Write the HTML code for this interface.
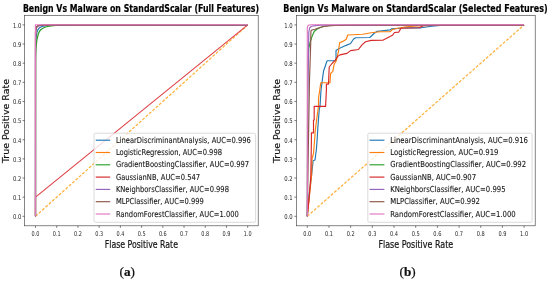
<!DOCTYPE html>
<html><head><meta charset="utf-8"><title>ROC curves</title>
<style>
html,body{margin:0;padding:0;background:#fff;}
svg{display:block;font-family:'DejaVu Sans','Liberation Sans',sans-serif;filter:blur(0.35px);}
text{stroke:currentColor;stroke-width:0.2px;}
text.tk{stroke:none;}
text.lg{stroke-width:0.1px;}
</style></head><body>
<svg width="550" height="281" viewBox="0 0 550 281">
<rect width="550" height="281" fill="#fff"/>
<g>
<polyline points="35.5,216.3 247.7,24.9" fill="none" stroke="#ffb03a" stroke-width="1.25" stroke-linejoin="round" stroke-dasharray="2.9 1.6"/>
<polyline points="35.5,216.3 35.5,50 35.8,42 36.3,36 37,32 38,29.5 39.5,27.8 42,26.5 46,25.7 52,25.3 65,25 247.7,25.25" fill="none" stroke="#1f77b4" stroke-width="1.15" stroke-linejoin="round" />
<polyline points="35.5,216.3 35.5,40 35.9,30 36.8,27 38.5,25.8 42,25.2 60,24.9 247.7,25.25" fill="none" stroke="#ff7f0e" stroke-width="1.15" stroke-linejoin="round" />
<polyline points="35.5,216.3 35.6,60 35.9,50 36.4,44 37,39.3 38.3,34 39.4,31.5 40.8,29.7 42.8,28.2 45.6,27 48,26.4 51,26 56,25.5 63,25.2 80,25 247.7,25.25" fill="none" stroke="#2ca02c" stroke-width="1.25" stroke-linejoin="round" />
<polyline points="35.5,216.3 35.5,197.16 247.7,24.9" fill="none" stroke="#df444a" stroke-width="1.15" stroke-linejoin="round" />
<polyline points="35.5,216.3 35.5,34 36,29 37.2,26.8 39.5,25.7 45,25.1 247.7,25.25" fill="none" stroke="#9467bd" stroke-width="1.15" stroke-linejoin="round" />
<polyline points="35.5,216.3 35.5,32 36,27.5 37.5,25.8 41,25.1 247.7,25.25" fill="none" stroke="#8c564b" stroke-width="1.15" stroke-linejoin="round" />
<polyline points="35.4,216.3 35.4,24.75 247.7,24.75" fill="none" stroke="#e377c2" stroke-width="1.15" stroke-linejoin="round" />
<rect x="94" y="133.2" width="161.6" height="89.1" rx="1.6" ry="1.6" fill="#fff" fill-opacity="0.8" stroke="#ccc" stroke-width="0.7"/>
<line x1="95.7" y1="140.2" x2="110.2" y2="140.2" stroke="#1f77b4" stroke-width="1.15"/>
<text transform="translate(115.9,142.75) scale(0.8239,1)" font-size="8.2" fill="#1a1a1a" class="lg">LinearDiscriminantAnalysis, AUC=0.996</text>
<line x1="95.7" y1="152.5" x2="110.2" y2="152.5" stroke="#ff7f0e" stroke-width="1.15"/>
<text transform="translate(115.9,155.05) scale(0.8239,1)" font-size="8.2" fill="#1a1a1a" class="lg">LogisticRegression, AUC=0.998</text>
<line x1="95.7" y1="164.8" x2="110.2" y2="164.8" stroke="#2ca02c" stroke-width="1.15"/>
<text transform="translate(115.9,167.35) scale(0.8239,1)" font-size="8.2" fill="#1a1a1a" class="lg">GradientBoostingClassifier, AUC=0.997</text>
<line x1="95.7" y1="177.1" x2="110.2" y2="177.1" stroke="#d62728" stroke-width="1.15"/>
<text transform="translate(115.9,179.65) scale(0.8239,1)" font-size="8.2" fill="#1a1a1a" class="lg">GaussianNB, AUC=0.547</text>
<line x1="95.7" y1="189.4" x2="110.2" y2="189.4" stroke="#9467bd" stroke-width="1.15"/>
<text transform="translate(115.9,191.95) scale(0.8239,1)" font-size="8.2" fill="#1a1a1a" class="lg">KNeighborsClassifier, AUC=0.998</text>
<line x1="95.7" y1="201.7" x2="110.2" y2="201.7" stroke="#8c564b" stroke-width="1.15"/>
<text transform="translate(115.9,204.25) scale(0.8239,1)" font-size="8.2" fill="#1a1a1a" class="lg">MLPClassifier, AUC=0.999</text>
<line x1="95.7" y1="214" x2="110.2" y2="214" stroke="#e377c2" stroke-width="1.15"/>
<text transform="translate(115.9,216.55) scale(0.8239,1)" font-size="8.2" fill="#1a1a1a" class="lg">RandomForestClassifier, AUC=1.000</text>
<rect x="24.5" y="15.3" width="233.7" height="210.5" fill="none" stroke="#3c3c3c" stroke-width="0.62"/>
<line x1="35.5" y1="225.8" x2="35.5" y2="227.8" stroke="#222" stroke-width="0.6"/>
<line x1="22.5" y1="216.3" x2="24.5" y2="216.3" stroke="#222" stroke-width="0.6"/>
<text transform="translate(35.5,236.4) scale(0.7388,1)" font-size="6.7" text-anchor="middle" fill="#1c1c1c" class="tk">0.0</text>
<text transform="translate(21.3,219.1) scale(0.7761,1)" font-size="6.7" text-anchor="end" fill="#1c1c1c" class="tk">0.0</text>
<line x1="56.72" y1="225.8" x2="56.72" y2="227.8" stroke="#222" stroke-width="0.6"/>
<line x1="22.5" y1="197.16" x2="24.5" y2="197.16" stroke="#222" stroke-width="0.6"/>
<text transform="translate(56.72,236.4) scale(0.7388,1)" font-size="6.7" text-anchor="middle" fill="#1c1c1c" class="tk">0.1</text>
<text transform="translate(21.3,199.96) scale(0.7761,1)" font-size="6.7" text-anchor="end" fill="#1c1c1c" class="tk">0.1</text>
<line x1="77.94" y1="225.8" x2="77.94" y2="227.8" stroke="#222" stroke-width="0.6"/>
<line x1="22.5" y1="178.02" x2="24.5" y2="178.02" stroke="#222" stroke-width="0.6"/>
<text transform="translate(77.94,236.4) scale(0.7388,1)" font-size="6.7" text-anchor="middle" fill="#1c1c1c" class="tk">0.2</text>
<text transform="translate(21.3,180.82) scale(0.7761,1)" font-size="6.7" text-anchor="end" fill="#1c1c1c" class="tk">0.2</text>
<line x1="99.16" y1="225.8" x2="99.16" y2="227.8" stroke="#222" stroke-width="0.6"/>
<line x1="22.5" y1="158.88" x2="24.5" y2="158.88" stroke="#222" stroke-width="0.6"/>
<text transform="translate(99.16,236.4) scale(0.7388,1)" font-size="6.7" text-anchor="middle" fill="#1c1c1c" class="tk">0.3</text>
<text transform="translate(21.3,161.68) scale(0.7761,1)" font-size="6.7" text-anchor="end" fill="#1c1c1c" class="tk">0.3</text>
<line x1="120.38" y1="225.8" x2="120.38" y2="227.8" stroke="#222" stroke-width="0.6"/>
<line x1="22.5" y1="139.74" x2="24.5" y2="139.74" stroke="#222" stroke-width="0.6"/>
<text transform="translate(120.38,236.4) scale(0.7388,1)" font-size="6.7" text-anchor="middle" fill="#1c1c1c" class="tk">0.4</text>
<text transform="translate(21.3,142.54) scale(0.7761,1)" font-size="6.7" text-anchor="end" fill="#1c1c1c" class="tk">0.4</text>
<line x1="141.6" y1="225.8" x2="141.6" y2="227.8" stroke="#222" stroke-width="0.6"/>
<line x1="22.5" y1="120.6" x2="24.5" y2="120.6" stroke="#222" stroke-width="0.6"/>
<text transform="translate(141.6,236.4) scale(0.7388,1)" font-size="6.7" text-anchor="middle" fill="#1c1c1c" class="tk">0.5</text>
<text transform="translate(21.3,123.4) scale(0.7761,1)" font-size="6.7" text-anchor="end" fill="#1c1c1c" class="tk">0.5</text>
<line x1="162.82" y1="225.8" x2="162.82" y2="227.8" stroke="#222" stroke-width="0.6"/>
<line x1="22.5" y1="101.46" x2="24.5" y2="101.46" stroke="#222" stroke-width="0.6"/>
<text transform="translate(162.82,236.4) scale(0.7388,1)" font-size="6.7" text-anchor="middle" fill="#1c1c1c" class="tk">0.6</text>
<text transform="translate(21.3,104.26) scale(0.7761,1)" font-size="6.7" text-anchor="end" fill="#1c1c1c" class="tk">0.6</text>
<line x1="184.04" y1="225.8" x2="184.04" y2="227.8" stroke="#222" stroke-width="0.6"/>
<line x1="22.5" y1="82.32" x2="24.5" y2="82.32" stroke="#222" stroke-width="0.6"/>
<text transform="translate(184.04,236.4) scale(0.7388,1)" font-size="6.7" text-anchor="middle" fill="#1c1c1c" class="tk">0.7</text>
<text transform="translate(21.3,85.12) scale(0.7761,1)" font-size="6.7" text-anchor="end" fill="#1c1c1c" class="tk">0.7</text>
<line x1="205.26" y1="225.8" x2="205.26" y2="227.8" stroke="#222" stroke-width="0.6"/>
<line x1="22.5" y1="63.18" x2="24.5" y2="63.18" stroke="#222" stroke-width="0.6"/>
<text transform="translate(205.26,236.4) scale(0.7388,1)" font-size="6.7" text-anchor="middle" fill="#1c1c1c" class="tk">0.8</text>
<text transform="translate(21.3,65.98) scale(0.7761,1)" font-size="6.7" text-anchor="end" fill="#1c1c1c" class="tk">0.8</text>
<line x1="226.48" y1="225.8" x2="226.48" y2="227.8" stroke="#222" stroke-width="0.6"/>
<line x1="22.5" y1="44.04" x2="24.5" y2="44.04" stroke="#222" stroke-width="0.6"/>
<text transform="translate(226.48,236.4) scale(0.7388,1)" font-size="6.7" text-anchor="middle" fill="#1c1c1c" class="tk">0.9</text>
<text transform="translate(21.3,46.84) scale(0.7761,1)" font-size="6.7" text-anchor="end" fill="#1c1c1c" class="tk">0.9</text>
<line x1="247.7" y1="225.8" x2="247.7" y2="227.8" stroke="#222" stroke-width="0.6"/>
<line x1="22.5" y1="24.9" x2="24.5" y2="24.9" stroke="#222" stroke-width="0.6"/>
<text transform="translate(247.7,236.4) scale(0.7388,1)" font-size="6.7" text-anchor="middle" fill="#1c1c1c" class="tk">1.0</text>
<text transform="translate(21.3,27.7) scale(0.7761,1)" font-size="6.7" text-anchor="end" fill="#1c1c1c" class="tk">1.0</text>
<text x="22.9" y="11.8" font-size="10.4" font-weight="bold" fill="#000" textLength="236.1" lengthAdjust="spacingAndGlyphs">Benign Vs Malware on StandardScalar (Full Features)</text>
<text x="104.75" y="247.5" font-size="9.8" fill="#222" textLength="73.2" lengthAdjust="spacingAndGlyphs">Flase Positive Rate</text>
<text transform="translate(8.8,163) scale(0.8600,1) rotate(-90)" font-size="9.43" fill="#222" textLength="84" lengthAdjust="spacingAndGlyphs">True Positive Rate</text>
</g>
<g>
<polyline points="307.3,216.3 524.1,24.9" fill="none" stroke="#ffb03a" stroke-width="1.25" stroke-linejoin="round" stroke-dasharray="2.9 1.6"/>
<polyline points="307.3,216.3 308.9,196 311.5,176 313.1,160.7 315,160 316.4,149.2 317.1,140 317.8,128.5 319.2,110 320,106.4 321,90 323.5,71.3 327.1,60.7 336,60.7 336,50.6 339.2,48.5 345.6,45.6 350.6,43.5 353.4,39.2 355.6,37.8 369.8,37.5 374,33.5 376.9,31.4 380,31 390.3,29.9 391.3,28.9 406.2,27.8 421.2,27.8 431.8,26.3 440,25.4 470,25 524.1,25.25" fill="none" stroke="#1f77b4" stroke-width="1.15" stroke-linejoin="round" />
<polyline points="307.3,216.3 309.3,196.7 311.6,175.3 312.1,158.5 313.5,153.5 315,135 315,132.9 316.4,121.4 318.5,106.4 318.5,98.5 320.6,84.2 320.7,82.7 330,82.7 330.6,73.5 332.8,71.3 334.2,64.2 336.3,60.7 338.5,51.4 339.6,42.8 342.8,41.4 346.3,39.2 347.7,35 362.7,34.2 371.2,32.8 380,31.8 390.3,31.6 392.4,29.5 397.7,28.2 406.2,26.7 421.2,25.7 440,25.2 524.1,25.25" fill="none" stroke="#ff7f0e" stroke-width="1.15" stroke-linejoin="round" />
<polyline points="307.3,216.3 307.6,80 308.2,58 308.8,48 310.2,42 312,36.5 314.2,31.5 316.5,29.5 319.2,28 322.8,26.5 328,25.8 340,25.2 524.1,25.25" fill="none" stroke="#2ca02c" stroke-width="1.15" stroke-linejoin="round" />
<polyline points="307.3,216.3 309.3,196.7 310.8,176 311.1,160 311.4,140 311.4,132.9 313.5,132.9 313.5,120 314.2,120 314.2,106.4 325.6,106.4 326.4,90 326.4,84.1 328.5,84.1 329.2,67 332,63.5 334.9,60.7 337.8,56.4 339.9,54.9 347,53.4 350.6,50.6 358.4,49.5 362,44.9 365.5,41.8 371.2,40.4 382.8,40.2 388.1,37.4 392.4,35.3 394.5,32.5 398.8,32.1 400.9,28.2 419,27.8 423.3,25.7 440,25.2 524.1,25.25" fill="none" stroke="#d62728" stroke-width="1.15" stroke-linejoin="round" />
<polyline points="307.3,216.3 307.8,100 308.6,45 308.8,32 309.6,28 311.5,26.3 315,25.6 321,25.1 524.1,25.25" fill="none" stroke="#9467bd" stroke-width="1.15" stroke-linejoin="round" />
<polyline points="307.3,216.3 308.3,150 309.5,80 310.5,50 310.7,43.6 310.9,31 312,30 315,29.2 318.5,28 321,27.2 324.2,26.5 330,25.8 335.6,25.5 350,25.1 524.1,25.25" fill="none" stroke="#8c564b" stroke-width="1.15" stroke-linejoin="round" />
<polyline points="307.3,216.3 307.3,28 307.8,26 309,25 311,24.75 524.1,24.75" fill="none" stroke="#e377c2" stroke-width="1.15" stroke-linejoin="round" />
<rect x="367.8" y="133.2" width="164.3" height="89.1" rx="1.6" ry="1.6" fill="#fff" fill-opacity="0.8" stroke="#ccc" stroke-width="0.7"/>
<line x1="369.5" y1="140.2" x2="384.4" y2="140.2" stroke="#1f77b4" stroke-width="1.15"/>
<text transform="translate(390.2,142.75) scale(0.8410,1)" font-size="8.2" fill="#1a1a1a" class="lg">LinearDiscriminantAnalysis, AUC=0.916</text>
<line x1="369.5" y1="152.5" x2="384.4" y2="152.5" stroke="#ff7f0e" stroke-width="1.15"/>
<text transform="translate(390.2,155.05) scale(0.8410,1)" font-size="8.2" fill="#1a1a1a" class="lg">LogisticRegression, AUC=0.919</text>
<line x1="369.5" y1="164.8" x2="384.4" y2="164.8" stroke="#2ca02c" stroke-width="1.15"/>
<text transform="translate(390.2,167.35) scale(0.8410,1)" font-size="8.2" fill="#1a1a1a" class="lg">GradientBoostingClassifier, AUC=0.992</text>
<line x1="369.5" y1="177.1" x2="384.4" y2="177.1" stroke="#d62728" stroke-width="1.15"/>
<text transform="translate(390.2,179.65) scale(0.8410,1)" font-size="8.2" fill="#1a1a1a" class="lg">GaussianNB, AUC=0.907</text>
<line x1="369.5" y1="189.4" x2="384.4" y2="189.4" stroke="#9467bd" stroke-width="1.15"/>
<text transform="translate(390.2,191.95) scale(0.8410,1)" font-size="8.2" fill="#1a1a1a" class="lg">KNeighborsClassifier, AUC=0.995</text>
<line x1="369.5" y1="201.7" x2="384.4" y2="201.7" stroke="#8c564b" stroke-width="1.15"/>
<text transform="translate(390.2,204.25) scale(0.8410,1)" font-size="8.2" fill="#1a1a1a" class="lg">MLPClassifier, AUC=0.992</text>
<line x1="369.5" y1="214" x2="384.4" y2="214" stroke="#e377c2" stroke-width="1.15"/>
<text transform="translate(390.2,216.55) scale(0.8410,1)" font-size="8.2" fill="#1a1a1a" class="lg">RandomForestClassifier, AUC=1.000</text>
<rect x="296.4" y="15.3" width="238.8" height="210.5" fill="none" stroke="#3c3c3c" stroke-width="0.62"/>
<line x1="307.3" y1="225.8" x2="307.3" y2="227.8" stroke="#222" stroke-width="0.6"/>
<line x1="294.4" y1="216.3" x2="296.4" y2="216.3" stroke="#222" stroke-width="0.6"/>
<text transform="translate(307.3,236.4) scale(0.7548,1)" font-size="6.7" text-anchor="middle" fill="#1c1c1c" class="tk">0.0</text>
<text transform="translate(292.6,219.1) scale(0.7929,1)" font-size="6.7" text-anchor="end" fill="#1c1c1c" class="tk">0.0</text>
<line x1="328.98" y1="225.8" x2="328.98" y2="227.8" stroke="#222" stroke-width="0.6"/>
<line x1="294.4" y1="197.16" x2="296.4" y2="197.16" stroke="#222" stroke-width="0.6"/>
<text transform="translate(328.98,236.4) scale(0.7548,1)" font-size="6.7" text-anchor="middle" fill="#1c1c1c" class="tk">0.1</text>
<text transform="translate(292.6,199.96) scale(0.7929,1)" font-size="6.7" text-anchor="end" fill="#1c1c1c" class="tk">0.1</text>
<line x1="350.66" y1="225.8" x2="350.66" y2="227.8" stroke="#222" stroke-width="0.6"/>
<line x1="294.4" y1="178.02" x2="296.4" y2="178.02" stroke="#222" stroke-width="0.6"/>
<text transform="translate(350.66,236.4) scale(0.7548,1)" font-size="6.7" text-anchor="middle" fill="#1c1c1c" class="tk">0.2</text>
<text transform="translate(292.6,180.82) scale(0.7929,1)" font-size="6.7" text-anchor="end" fill="#1c1c1c" class="tk">0.2</text>
<line x1="372.34" y1="225.8" x2="372.34" y2="227.8" stroke="#222" stroke-width="0.6"/>
<line x1="294.4" y1="158.88" x2="296.4" y2="158.88" stroke="#222" stroke-width="0.6"/>
<text transform="translate(372.34,236.4) scale(0.7548,1)" font-size="6.7" text-anchor="middle" fill="#1c1c1c" class="tk">0.3</text>
<text transform="translate(292.6,161.68) scale(0.7929,1)" font-size="6.7" text-anchor="end" fill="#1c1c1c" class="tk">0.3</text>
<line x1="394.02" y1="225.8" x2="394.02" y2="227.8" stroke="#222" stroke-width="0.6"/>
<line x1="294.4" y1="139.74" x2="296.4" y2="139.74" stroke="#222" stroke-width="0.6"/>
<text transform="translate(394.02,236.4) scale(0.7548,1)" font-size="6.7" text-anchor="middle" fill="#1c1c1c" class="tk">0.4</text>
<text transform="translate(292.6,142.54) scale(0.7929,1)" font-size="6.7" text-anchor="end" fill="#1c1c1c" class="tk">0.4</text>
<line x1="415.7" y1="225.8" x2="415.7" y2="227.8" stroke="#222" stroke-width="0.6"/>
<line x1="294.4" y1="120.6" x2="296.4" y2="120.6" stroke="#222" stroke-width="0.6"/>
<text transform="translate(415.7,236.4) scale(0.7548,1)" font-size="6.7" text-anchor="middle" fill="#1c1c1c" class="tk">0.5</text>
<text transform="translate(292.6,123.4) scale(0.7929,1)" font-size="6.7" text-anchor="end" fill="#1c1c1c" class="tk">0.5</text>
<line x1="437.38" y1="225.8" x2="437.38" y2="227.8" stroke="#222" stroke-width="0.6"/>
<line x1="294.4" y1="101.46" x2="296.4" y2="101.46" stroke="#222" stroke-width="0.6"/>
<text transform="translate(437.38,236.4) scale(0.7548,1)" font-size="6.7" text-anchor="middle" fill="#1c1c1c" class="tk">0.6</text>
<text transform="translate(292.6,104.26) scale(0.7929,1)" font-size="6.7" text-anchor="end" fill="#1c1c1c" class="tk">0.6</text>
<line x1="459.06" y1="225.8" x2="459.06" y2="227.8" stroke="#222" stroke-width="0.6"/>
<line x1="294.4" y1="82.32" x2="296.4" y2="82.32" stroke="#222" stroke-width="0.6"/>
<text transform="translate(459.06,236.4) scale(0.7548,1)" font-size="6.7" text-anchor="middle" fill="#1c1c1c" class="tk">0.7</text>
<text transform="translate(292.6,85.12) scale(0.7929,1)" font-size="6.7" text-anchor="end" fill="#1c1c1c" class="tk">0.7</text>
<line x1="480.74" y1="225.8" x2="480.74" y2="227.8" stroke="#222" stroke-width="0.6"/>
<line x1="294.4" y1="63.18" x2="296.4" y2="63.18" stroke="#222" stroke-width="0.6"/>
<text transform="translate(480.74,236.4) scale(0.7548,1)" font-size="6.7" text-anchor="middle" fill="#1c1c1c" class="tk">0.8</text>
<text transform="translate(292.6,65.98) scale(0.7929,1)" font-size="6.7" text-anchor="end" fill="#1c1c1c" class="tk">0.8</text>
<line x1="502.42" y1="225.8" x2="502.42" y2="227.8" stroke="#222" stroke-width="0.6"/>
<line x1="294.4" y1="44.04" x2="296.4" y2="44.04" stroke="#222" stroke-width="0.6"/>
<text transform="translate(502.42,236.4) scale(0.7548,1)" font-size="6.7" text-anchor="middle" fill="#1c1c1c" class="tk">0.9</text>
<text transform="translate(292.6,46.84) scale(0.7929,1)" font-size="6.7" text-anchor="end" fill="#1c1c1c" class="tk">0.9</text>
<line x1="524.1" y1="225.8" x2="524.1" y2="227.8" stroke="#222" stroke-width="0.6"/>
<line x1="294.4" y1="24.9" x2="296.4" y2="24.9" stroke="#222" stroke-width="0.6"/>
<text transform="translate(524.1,236.4) scale(0.7548,1)" font-size="6.7" text-anchor="middle" fill="#1c1c1c" class="tk">1.0</text>
<text transform="translate(292.6,27.7) scale(0.7929,1)" font-size="6.7" text-anchor="end" fill="#1c1c1c" class="tk">1.0</text>
<text x="283.3" y="11.8" font-size="10.4" font-weight="bold" fill="#000" textLength="264.3" lengthAdjust="spacingAndGlyphs">Benign Vs Malware on StandardScalar (Selected Features)</text>
<text x="378.41" y="247.5" font-size="9.8" fill="#222" textLength="74.79" lengthAdjust="spacingAndGlyphs">Flase Positive Rate</text>
<text transform="translate(279.9,163) scale(0.8600,1) rotate(-90)" font-size="9.43" fill="#222" textLength="84" lengthAdjust="spacingAndGlyphs">True Positive Rate</text>
</g>
<text x="127.2" y="275.8" font-size="13.2" text-anchor="middle" fill="#111" style="font-family:'Liberation Serif','DejaVu Serif',serif">(<tspan font-weight="bold">a</tspan>)</text>
<text x="407.6" y="275.8" font-size="13.2" text-anchor="middle" fill="#111" style="font-family:'Liberation Serif','DejaVu Serif',serif">(<tspan font-weight="bold">b</tspan>)</text>
</svg>
</body></html>
